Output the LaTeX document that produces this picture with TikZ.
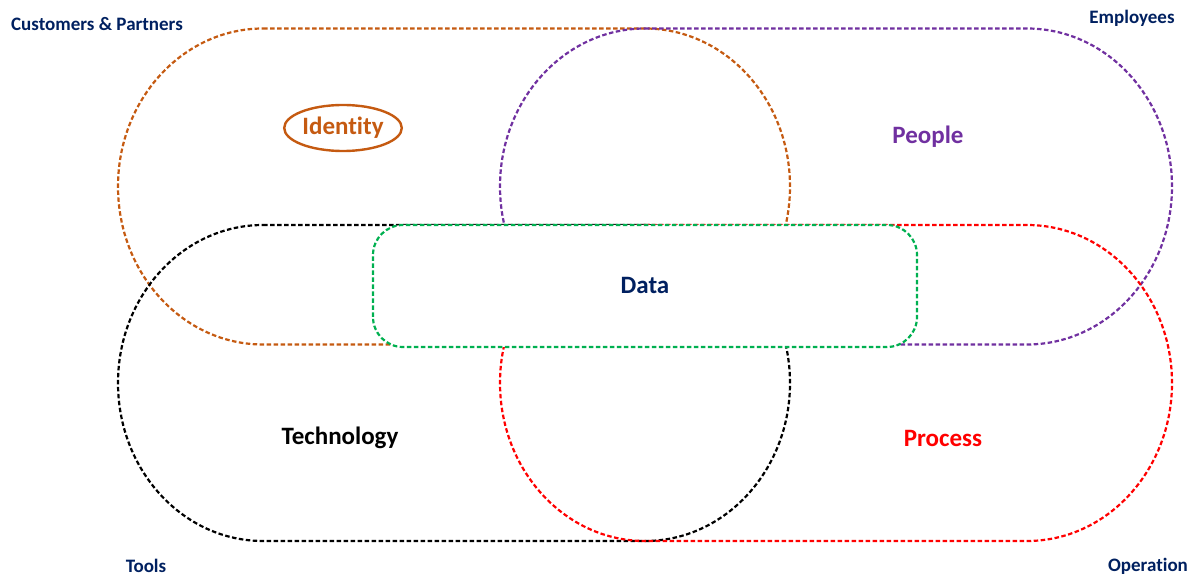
\documentclass[tikz,border=0pt]{standalone}
\usepackage{fontspec}
\setmainfont[Ligatures=NoCommon]{Carlito}
\usetikzlibrary{shapes.geometric}
\definecolor{orangeC}{HTML}{C55A11}
\definecolor{purpleC}{HTML}{7030A0}
\definecolor{redC}{HTML}{FF0000}
\definecolor{greenC}{HTML}{00B050}
\definecolor{navyC}{HTML}{002060}
\tikzset{
  loop/.style={line width=2.2pt, dash pattern=on 4.5pt off 2.5pt},
  corner/.style={font=\bfseries\fontsize{19}{22}\selectfont, text=navyC, inner sep=0pt},
  area/.style={font=\bfseries\fontsize{25}{28}\selectfont, inner sep=0pt}
}
\begin{document}
\begin{tikzpicture}[x=1pt,y=1pt]
                \useasboundingbox (0,0) rectangle (1200,587);
                \foreach \cl/\yc/\col in {263/400.5/orangeC, 645/400.5/purpleC, 263/204/black, 645/204/redC}
                  \draw[loop, \col] (\cl,\yc+158) -- (\cl+382,\yc+158)
                    arc[start angle=90, end angle=-90, x radius=145, y radius=158]
                    -- (\cl,\yc-158)
                    arc[start angle=270, end angle=90, x radius=145, y radius=158] -- cycle;
                \coordinate (D1) at (373,240);
                \coordinate (D2) at (917,362);
                \draw[loop, greenC, fill=white, rounded corners=30pt] (D1) rectangle (D2);
                \node[area, text=navyC] (data) at (645,302) {Data};
                \node[area, text=orangeC, draw=orangeC, line width=2.4pt, ellipse, inner sep=1pt, minimum width=107pt, minimum height=46pt] (identity) at (343,459) {Identity};
                \node[area, text=purpleC] (people) at (928,450) {People};
                \node[area, text=black] (tech) at (340,149) {Technology};
                \node[area, text=redC] (process) at (943,149) {Process};
                \node[corner] (cust) at (97,563) {Customers \& Partners};
                \node[corner] (empl) at (1132,569) {Employees};
                \node[corner] (tools) at (146,21) {Tools};
                \node[corner] (oper) at (1148,21) {Operation};
            \end{tikzpicture}
\end{document}
